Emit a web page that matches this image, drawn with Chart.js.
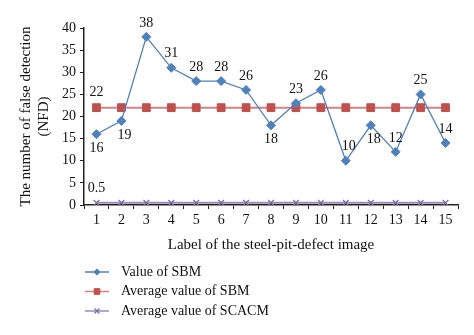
<!DOCTYPE html>
<html>
<head>
<meta charset="utf-8">
<script src="https://cdn.jsdelivr.net/npm/chart.js@4/dist/chart.umd.min.js"></script>
<style>
  html, body { margin: 0; padding: 0; background: #fff; }
  #wrap { width: 474px; height: 335px; }
</style>
</head>
<body>
<div id="wrap"><canvas id="c" width="474" height="335"></canvas></div>
<script>
// chart values
const imageLabels = ['1','2','3','4','5','6','7','8','9','10','11','12','13','14','15'];
const sbmValues = [16, 19, 38, 31, 28, 28, 26, 18, 23, 26, 10, 18, 12, 25, 14];
const sbmAverage = [22, 22, 22, 22, 22, 22, 22, 22, 22, 22, 22, 22, 22, 22, 22];
const scacmAverage = [0.5, 0.5, 0.5, 0.5, 0.5, 0.5, 0.5, 0.5, 0.5, 0.5, 0.5, 0.5, 0.5, 0.5, 0.5];
const seriesNames = ['Value of SBM', 'Average value of SBM', 'Average value of SCACM'];

// where each SBM value label sits relative to its point
const sbmLabelSide = ['below','below','above','above','above','above','above','below','above','above','above','below','above','above','above'];

const FONT = '"Liberation Serif", "DejaVu Serif", serif';

// value labels drawn next to the points
const valueLabels = {
    id: 'valueLabels',
    afterDatasetsDraw(chart) {
        const ctx = chart.ctx;
        ctx.save();
        ctx.fillStyle = '#111';
        ctx.font = '14px ' + FONT;
        ctx.textAlign = 'center';
        ctx.textBaseline = 'middle';

        chart.getDatasetMeta(0).data.forEach((pt, i) => {
            const dy = sbmLabelSide[i] === 'above' ? -14 : 14;
            let dx = 0;
            if (i === 1) dx = 3;
            if (i === 10) dx = 3;
            if (i === 11) dx = 3;
            ctx.fillText(String(sbmValues[i]), pt.x + dx, pt.y + dy);
        });

        // only the first point of each average line is labelled
        const p1 = chart.getDatasetMeta(1).data[0];
        ctx.fillText(String(sbmAverage[0]), p1.x, p1.y - 15);
        const p2 = chart.getDatasetMeta(2).data[0];
        ctx.fillText(String(scacmAverage[0]), p2.x, p2.y - 14);
        ctx.restore();
    }
};

// vertical legend below the x axis title
const stackedLegend = {
    id: 'stackedLegend',
    afterDraw(chart) {
        const ctx = chart.ctx;
        ctx.save();
        ctx.font = '14px ' + FONT;
        ctx.textBaseline = 'middle';
        chart.data.datasets.forEach((ds, i) => {
            const y = 272 + i * 19.5;
            ctx.strokeStyle = ds.borderColor;
            ctx.lineWidth = 1.5;
            ctx.beginPath();
            ctx.moveTo(85, y);
            ctx.lineTo(109, y);
            ctx.stroke();
            ctx.fillStyle = ds.pointBackgroundColor;
            ctx.strokeStyle = ds.pointBorderColor;
            ctx.lineWidth = ds.pointBorderWidth || 1;
            Chart.helpers.drawPoint(ctx, {
                pointStyle: ds.pointStyle,
                radius: ds.legendRadius,
                borderWidth: ds.pointBorderWidth || 1
            }, 97, y);
            ctx.fillStyle = '#111';
            ctx.fillText(ds.label, 121, y);
        });
        ctx.restore();
    }
};

new Chart(document.getElementById('c'), {
    type: 'line',
    data: {
        labels: imageLabels,
        datasets: [
            {
                label: seriesNames[0],
                data: sbmValues,
                borderColor: '#4F81BD',
                borderWidth: 1.3,
                pointStyle: 'rectRot',
                pointRadius: 4.5,
                legendRadius: 3,
                pointBackgroundColor: '#4F81BD',
                pointBorderColor: '#4F81BD',
                pointBorderWidth: 1,
                order: 1
            },
            {
                label: seriesNames[1],
                data: sbmAverage,
                borderColor: '#D9827F',
                borderWidth: 2,
                pointStyle: 'rect',
                pointRadius: 5.5,
                legendRadius: 4,
                pointBackgroundColor: '#C0504D',
                pointBorderColor: '#C0504D',
                pointBorderWidth: 1,
                order: 2
            },
            {
                label: seriesNames[2],
                data: scacmAverage,
                borderColor: '#9C8AB8',
                borderWidth: 2,
                pointStyle: 'crossRot',
                pointRadius: 4,
                legendRadius: 3.5,
                pointBackgroundColor: '#7A68A0',
                pointBorderColor: '#7A68A0',
                pointBorderWidth: 1.2,
                order: 3
            }
        ]
    },
    options: {
        responsive: false,
        animation: false,
        layout: {
            padding: { top: 28, right: 16, bottom: 81, left: 0 }
        },
        plugins: {
            legend: { display: false },
            tooltip: { enabled: false }
        },
        scales: {
            x: {
                offset: true,
                grid: {
                    display: true,
                    drawOnChartArea: false,
                    drawTicks: true,
                    tickLength: 4,
                    color: '#222',
                    offset: true
                },
                border: { display: true, color: '#222', width: 1.5 },
                ticks: {
                    color: '#111',
                    font: { family: FONT, size: 14 },
                    padding: 3,
                    maxRotation: 0,
                    autoSkip: false
                },
                title: {
                    display: true,
                    text: 'Label of the steel-pit-defect image',
                    color: '#111',
                    font: { family: FONT, size: 15 },
                    padding: { top: 3, bottom: 0 }
                },
                afterFit(scale) { scale.height = 49; }
            },
            y: {
                min: 0,
                max: 40,
                ticks: {
                    stepSize: 5,
                    color: '#111',
                    font: { family: FONT, size: 14 },
                    padding: 4
                },
                grid: {
                    display: true,
                    drawOnChartArea: false,
                    drawTicks: true,
                    tickLength: 4,
                    color: '#222'
                },
                border: { display: true, color: '#222', width: 1.5 },
                title: {
                    display: true,
                    text: ['The number of false detection', '(NFD)'],
                    color: '#111',
                    font: { family: FONT, size: 15 },
                    padding: { top: 17, bottom: 2 }
                },
                afterFit(scale) { scale.width = 84; }
            }
        }
    },
    plugins: [valueLabels, stackedLegend]
});
</script>
</body>
</html>
